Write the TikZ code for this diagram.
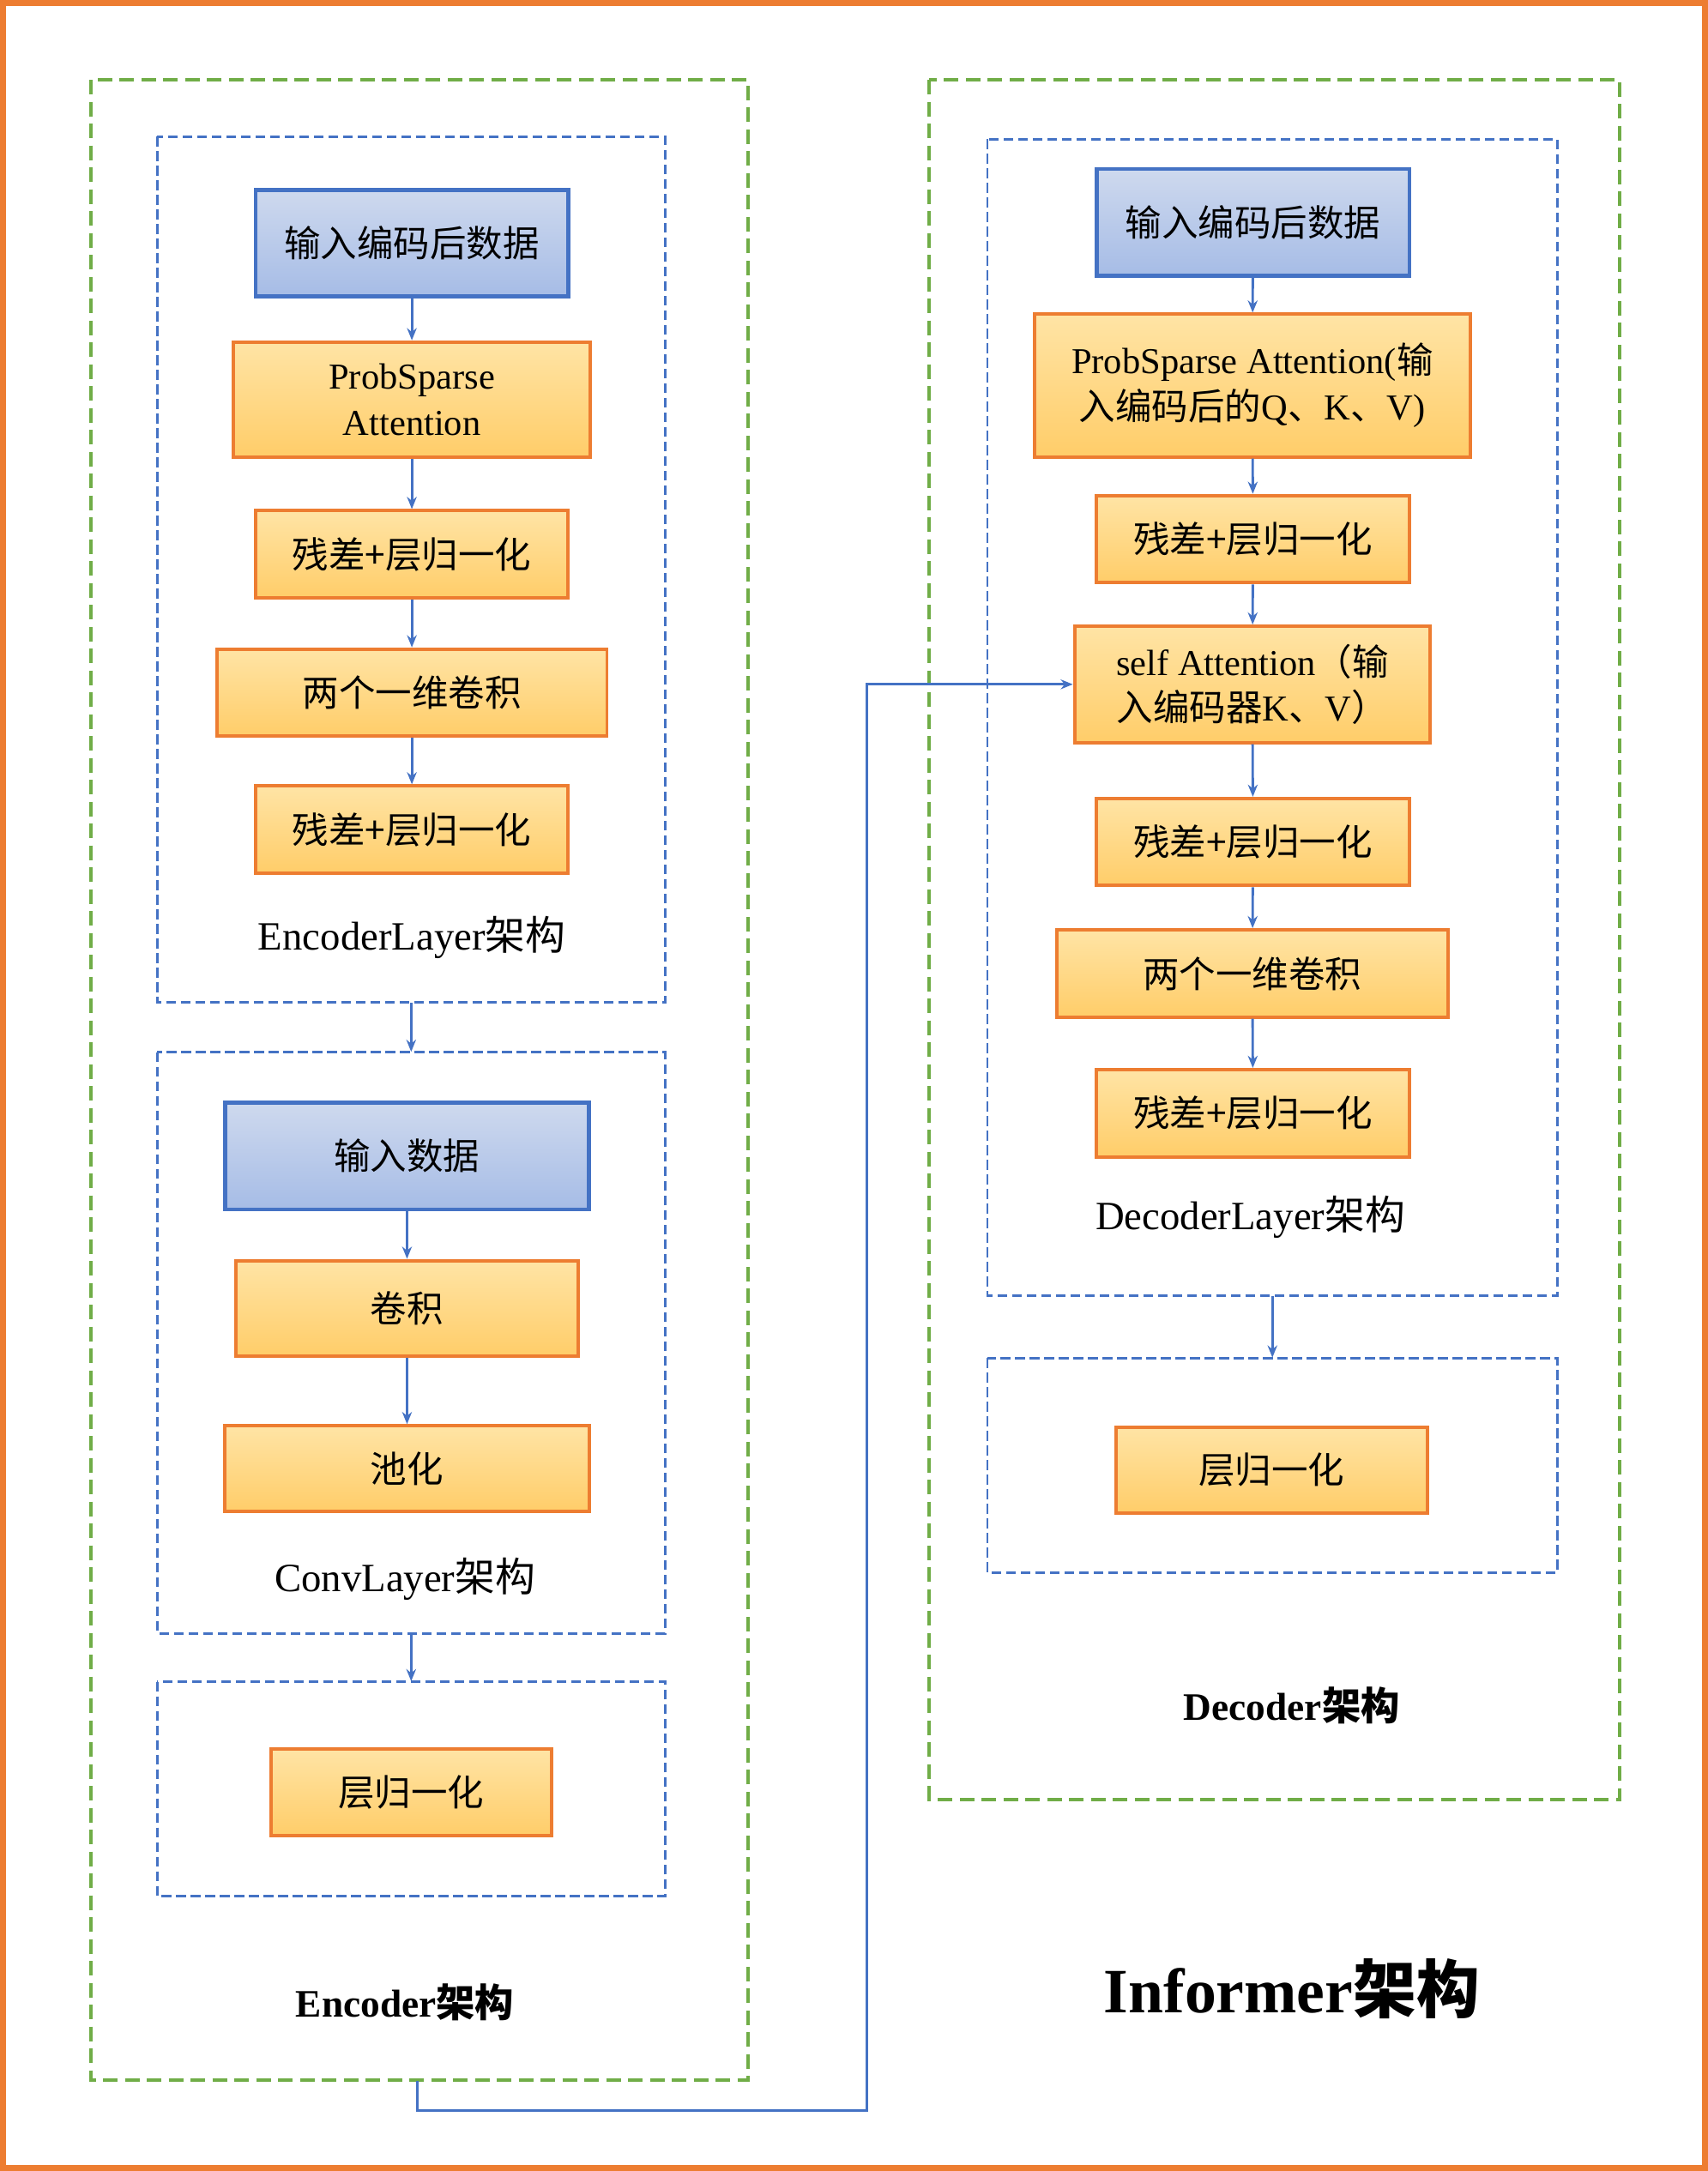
\documentclass[tikz,border=0pt]{standalone}
\usepackage{fontspec}
\setmainfont{Liberation Serif}
\newfontfamily\cjk{Noto Sans CJK SC}
\newcommand{\zh}[1]{{\cjk #1}}
\usetikzlibrary{arrows.meta}
\definecolor{ob}{HTML}{ED7D31}
\definecolor{bb}{HTML}{4472C4}
\definecolor{gb}{HTML}{70AD47}
\begin{document}
\begin{tikzpicture}[x=0.02cm,y=-0.02cm,
  obox/.style={draw=ob,line width=1.4pt,top color={rgb,255:red,255;green,228;blue,165},bottom color={rgb,255:red,255;green,205;blue,105},align=center,font=\fontsize{15}{19}\selectfont,inner sep=0pt},
  bbox/.style={draw=bb,line width=1.6pt,top color={rgb,255:red,206;green,217;blue,238},bottom color={rgb,255:red,166;green,188;blue,230},align=center,font=\fontsize{15}{19}\selectfont,inner sep=0pt},
  gdash/.style={draw=gb,line width=1.4pt,dash pattern=on 6pt off 3pt},
  bdash/.style={draw=bb,line width=1pt,dash pattern=on 4pt off 2pt},
  ar/.style={draw=bb,line width=1pt,-{Stealth[length=5pt,width=4pt]}},
  lab/.style={font=\fontsize{16.5}{20}\selectfont}]
\draw[draw=ob,line width=2.5pt,fill=white] (1.5,1.5) rectangle (1231.5,1566.5);
\useasboundingbox (0,0) rectangle (1233,1568);
\draw[gdash] (65,57) rectangle (540,1503);
\draw[gdash] (671,57) rectangle (1170,1300);
\node[draw=none,minimum width=367*0.02cm,minimum height=626*0.02cm,inner sep=0] (el) at (296.5,411) {};
\draw[bdash] (113,98) rectangle (480,724);
\node[inner sep=0,minimum width=367*0.02cm,minimum height=420*0.02cm] (cl) at (296.5,970) {};
\draw[bdash] (113,760) rectangle (480,1180);
\node[inner sep=0,minimum width=367*0.02cm,minimum height=155*0.02cm] (en) at (296.5,1292.5) {};
\draw[bdash] (113,1215) rectangle (480,1370);
\node[inner sep=0,minimum width=412*0.02cm,minimum height=836*0.02cm] (dl) at (919,518) {};
\draw[bdash] (713,100) rectangle (1125,936);
\node[inner sep=0,minimum width=412*0.02cm,minimum height=155*0.02cm] (dn) at (919,1058.5) {};
\draw[bdash] (713,981) rectangle (1125,1136);
\node[inner sep=0,minimum width=475*0.02cm,minimum height=1446*0.02cm] (eg) at (302.5,780) {};

\node[bbox,minimum width=226*0.02cm,minimum height=77*0.02cm] (in1) at (297,175) {\zh{输入编码后数据}};
\node[obox,minimum width=258*0.02cm,minimum height=83*0.02cm] (ps) at (297,288) {ProbSparse\\Attention};
\node[obox,minimum width=226*0.02cm,minimum height=63*0.02cm] (r1) at (297,400) {\zh{残差+层归一化}};
\node[obox,minimum width=282*0.02cm,minimum height=63*0.02cm] (cv) at (297,500) {\zh{两个一维卷积}};
\node[obox,minimum width=226*0.02cm,minimum height=63*0.02cm] (r2) at (297,599) {\zh{残差+层归一化}};
\node[lab] (l1) at (297,677) {EncoderLayer\zh{架构}};
\node[bbox,minimum width=263*0.02cm,minimum height=77*0.02cm] (in2) at (293.5,835) {\zh{输入数据}};
\node[obox,minimum width=247*0.02cm,minimum height=69*0.02cm] (jj) at (293.5,945) {\zh{卷积}};
\node[obox,minimum width=263*0.02cm,minimum height=62*0.02cm] (pl) at (293.5,1061) {\zh{池化}};
\node[lab] (l2) at (292,1141) {ConvLayer\zh{架构}};
\node[obox,minimum width=203*0.02cm,minimum height=63*0.02cm] (n1) at (296.5,1295) {\zh{层归一化}};
\node[lab,font=\fontsize{16}{19}\selectfont\bfseries] (l3) at (292,1447) {Encoder\zh{架构}};

\node[bbox,minimum width=226*0.02cm,minimum height=77*0.02cm] (din) at (905,160) {\zh{输入编码后数据}};
\node[obox,minimum width=315*0.02cm,minimum height=103*0.02cm] (dps) at (904.5,278) {ProbSparse Attention(\zh{输}\\\zh{入编码后的}Q\zh{、}K\zh{、}V)};
\node[obox,minimum width=226*0.02cm,minimum height=63*0.02cm] (dr1) at (905,389) {\zh{残差+层归一化}};
\node[obox,minimum width=257*0.02cm,minimum height=84*0.02cm] (sa) at (904.5,494) {self Attention\zh{（输}\\\zh{入编码器}K\zh{、}V\zh{）}};
\node[obox,minimum width=226*0.02cm,minimum height=63*0.02cm] (dr2) at (905,608) {\zh{残差+层归一化}};
\node[obox,minimum width=283*0.02cm,minimum height=63*0.02cm] (dcv) at (904.5,703) {\zh{两个一维卷积}};
\node[obox,minimum width=226*0.02cm,minimum height=63*0.02cm] (dr3) at (905,804) {\zh{残差+层归一化}};
\node[lab] (l4) at (903,879) {DecoderLayer\zh{架构}};
\node[obox,minimum width=225*0.02cm,minimum height=62*0.02cm] (dno) at (918.5,1062) {\zh{层归一化}};
\node[lab,font=\fontsize{16}{19}\selectfont\bfseries] (l5) at (933,1232) {Decoder\zh{架构}};
\node[font=\fontsize{26}{30}\selectfont\bfseries] (l6) at (933,1437) {Informer\zh{架构}};

\draw[ar] (in1) -- (ps);
\draw[ar] (ps) -- (r1);
\draw[ar] (r1) -- (cv);
\draw[ar] (cv) -- (r2);
\draw[ar] (el.south) -- (cl.north);
\draw[ar] (in2) -- (jj);
\draw[ar] (jj) -- (pl);
\draw[ar] (cl.south) -- (en.north);
\draw[ar] (din) -- (dps);
\draw[ar] (dps) -- (dr1);
\draw[ar] (dr1) -- (sa);
\draw[ar] (sa) -- (dr2);
\draw[ar] (dr2) -- (dcv);
\draw[ar] (dcv) -- (dr3);
\draw[ar] (dl.south) -- (dn.north);
\coordinate (c1) at (301,1525);
\coordinate (c2) at (626,1525);
\coordinate (c3) at (626,494);
\draw[ar] (eg.south -| c1) -- (c1) -- (c2) -- (c3) -- (sa.west);
\end{tikzpicture}
\end{document}
